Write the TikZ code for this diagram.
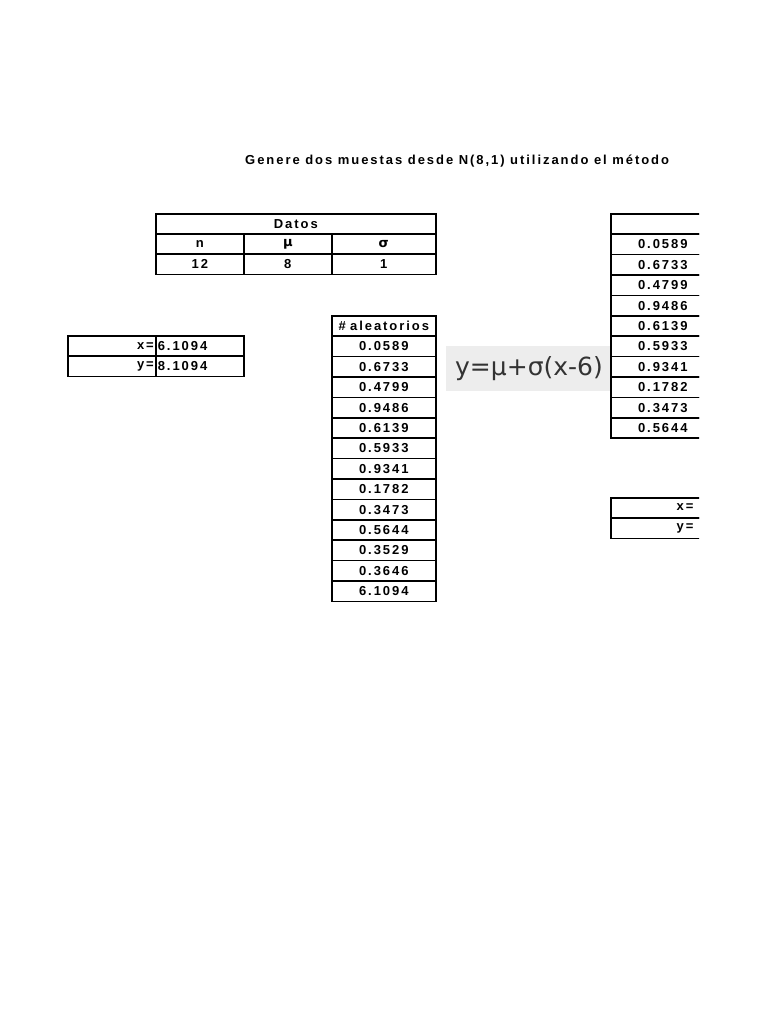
\documentclass[tikz,border=0pt]{standalone}
\usepackage{fontspec}
\setmainfont{Liberation Sans}[LetterSpace=15]
\newfontfamily\formulafont{DejaVu Sans}
\usetikzlibrary{positioning}
\tikzset{
  cell/.style={draw, line width=1.6pt, rectangle, anchor=north west, inner sep=1pt,
    minimum height=20.4pt, font=\fontsize{13}{15}\selectfont\bfseries},
  wide/.style={cell, minimum width=104pt, text width=100pt, align=center},
  narrow/.style={cell, minimum width=88pt, text width=84pt, align=center},
  lab/.style={cell, minimum width=88pt, text width=84pt, align=right},
  val/.style={cell, minimum width=88pt, text width=84pt, align=left},
}
\begin{document}
\begin{tikzpicture}[x=1pt,y=-1pt]
\useasboundingbox (0,0) rectangle (768,1024);
\fill[white] (0,0) rectangle (768,1024);
% title
\node[font=\fontsize{13}{15}\selectfont\bfseries, anchor=west, inner sep=0pt] (title) at (245,161)
  {Genere dos muestas desde N(8,1) utilizando el método};
% tabla de datos
\node[cell, minimum width=280pt] (datos) at (155,213) {Datos};
\node[narrow] (hn) at (155,233) {n};
\node[narrow] (hmu) at (243,233) {\formulafont\bfseries μ};
\node[cell, minimum width=104pt] (hsig) at (331,233) {\formulafont\bfseries σ};
\node[narrow] (vn) at (155,253.4) {12};
\node[narrow] (vmu) at (243,253.4) {8};
\node[cell, minimum width=104pt] (vsig) at (331,253.4) {1};
% resultados x, y
\node[lab] (lx) at (67,335) {x=};
\node[val] (vx) at (155,335) {6.1094};
\node[lab] (ly) at (67,355.4) {y=};
\node[val] (vy) at (155,355.4) {8.1094};
% numeros aleatorios
\node[wide] (alea) at (331,315) {\# aleatorios};
\foreach \v [count=\i] in {0.0589,0.6733,0.4799,0.9486,0.6139,0.5933,0.9341,0.1782,0.3473,0.5644,0.3529,0.3646,6.1094}
  \node[wide] (a\i) at (331,315+20.4*\i) {\v};
% formula
\fill[black!7] (446,346) rectangle (612,391);
\node[font=\fontsize{25}{28}\formulafont, text=black!80] (formula) at (529,369) {y=μ+σ(x-6)};
% columna derecha (cortada)
\begin{scope}
\clip (600,200) rectangle (699,560);
\node[wide] (r0) at (610,213) {};
\foreach \v [count=\i] in {0.0589,0.6733,0.4799,0.9486,0.6139,0.5933,0.9341,0.1782,0.3473,0.5644}
  \node[wide] (r\i) at (610,213+20.4*\i) {\v\hspace*{16pt}};
\node[cell, minimum width=104pt] (rx) at (610,497) {};
\node[cell, minimum width=104pt] (ry) at (610,517.4) {};
\end{scope}
\node[font=\fontsize{13}{15}\selectfont\bfseries, anchor=east] at (697,507) {x=};
\node[font=\fontsize{13}{15}\selectfont\bfseries, anchor=east] at (697,528) {y=};
\end{tikzpicture}
\end{document}
